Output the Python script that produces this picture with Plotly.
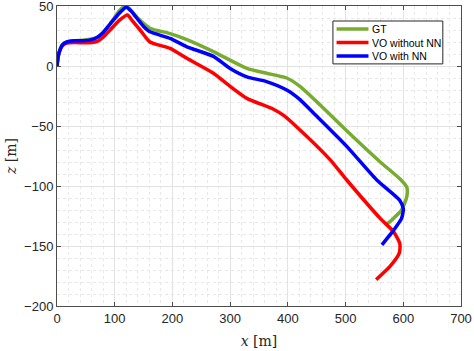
import plotly.graph_objects as go

gt_x = [0, 3, 8, 17, 30, 45, 60, 70, 80, 92, 108, 118, 125, 140, 161, 196, 225, 271, 329, 363, 398, 421, 456, 502, 560, 594, 606, 606, 597, 583, 571]
gt_z = [0, 10, 17, 20, 21, 21.5, 22.5, 24, 28, 35, 46, 50, 48, 40, 31.5, 27, 22, 12, -2, -6, -10, -17, -32.5, -54, -80, -94, -101, -109, -120, -127, -132]

nn_x = [0, 2, 5, 10, 17, 30, 45, 60, 70, 80, 92, 108, 120, 128, 138, 150, 161, 196, 225, 271, 300, 329, 363, 398, 421, 444, 502, 554, 594, 600, 597, 583, 563]
nn_z = [0, 8, 13, 18, 20, 21, 21, 22, 24, 28, 35, 44, 49, 46, 40, 33, 28.5, 23, 16, 8, -2, -9, -13, -20, -28, -39, -67, -95, -112, -119, -127, -137, -149]

vo_x = [0, 2, 5, 10, 17, 30, 46, 60, 70, 80, 92, 108, 122, 130, 144, 161, 196, 225, 271, 300, 329, 375, 392, 415, 473, 502, 560, 583, 594, 593, 577, 553]
vo_z = [0, 8, 13, 17, 19, 19.5, 19.4, 19.5, 20.5, 24, 30, 38, 42.5, 38, 30, 20, 14.7, 6.4, -6, -17, -27, -36, -41, -50.6, -78, -95, -127, -138, -148, -156, -167, -178]

series_names = ["GT", "VO without NN", "VO with NN"]
series_colors = ["#77AC30", "#FF0000", "#0000FF"]
series_data = [(gt_x, gt_z), (vo_x, vo_z), (nn_x, nn_z)]

x_ticks = [0, 100, 200, 300, 400, 500, 600, 700]
z_ticks = [-200, -150, -100, -50, 0, 50]

fig = go.Figure()
for name, color, (xs, zs) in zip(series_names, series_colors, series_data):
    fig.add_trace(go.Scatter(x=xs, y=zs, mode="lines", name=name, showlegend=False,
                             line=dict(color=color, width=3.5, shape="spline", smoothing=0.6)))

# compact MATLAB-style legend box (paper coordinates of the plot area)
fig.add_shape(type="rect", xref="paper", yref="paper", x0=0.683, x1=0.955, y0=0.807, y1=0.95,
              line=dict(color="#262626", width=1), fillcolor="white", layer="above")
row_y = [0.923, 0.878, 0.833]
for name, color, yy in zip(series_names, series_colors, row_y):
    fig.add_shape(type="line", xref="paper", yref="paper", x0=0.692, x1=0.771, y0=yy, y1=yy,
                  line=dict(color=color, width=3.5), layer="above")
    fig.add_annotation(xref="paper", yref="paper", x=0.774, y=yy, text=name, showarrow=False,
                       xanchor="left", yanchor="middle",
                       font=dict(family="Liberation Sans, Arial", size=10.5, color="#000000"))

axis_common = dict(
    showline=True, linecolor="#4d4d4d", linewidth=1, mirror="ticks",
    ticks="inside", ticklen=4, tickcolor="#4d4d4d",
    showgrid=True, gridcolor="#e3e3e3", gridwidth=1,
    zeroline=False, ticklabeloverflow="allow",
    tickfont=dict(family="Liberation Sans, Arial", size=13, color="#262626"),
)

fig.update_xaxes(range=[0, 700], tickvals=x_ticks,
                 minor=dict(dtick=20, showgrid=True, gridcolor="#e8e8e8", griddash="dot", ticks=""),
                 title=dict(text="<i>x</i> [m]", font=dict(family="DejaVu Serif, Liberation Serif", size=14, color="#262626"), standoff=11),
                 **axis_common)
fig.update_yaxes(range=[-200, 50], tickvals=z_ticks,
                 minor=dict(dtick=10, showgrid=True, gridcolor="#e8e8e8", griddash="dot", ticks=""),
                 title=dict(text="<i>z</i> [m]", font=dict(family="DejaVu Serif, Liberation Serif", size=14, color="#262626"), standoff=4),
                 **axis_common)

fig.update_layout(
    width=474, height=351,
    margin=dict(l=57, r=13, t=6, b=45, autoexpand=False),
    plot_bgcolor="white", paper_bgcolor="white",
    showlegend=False,
)

fig.write_html("out.html")
